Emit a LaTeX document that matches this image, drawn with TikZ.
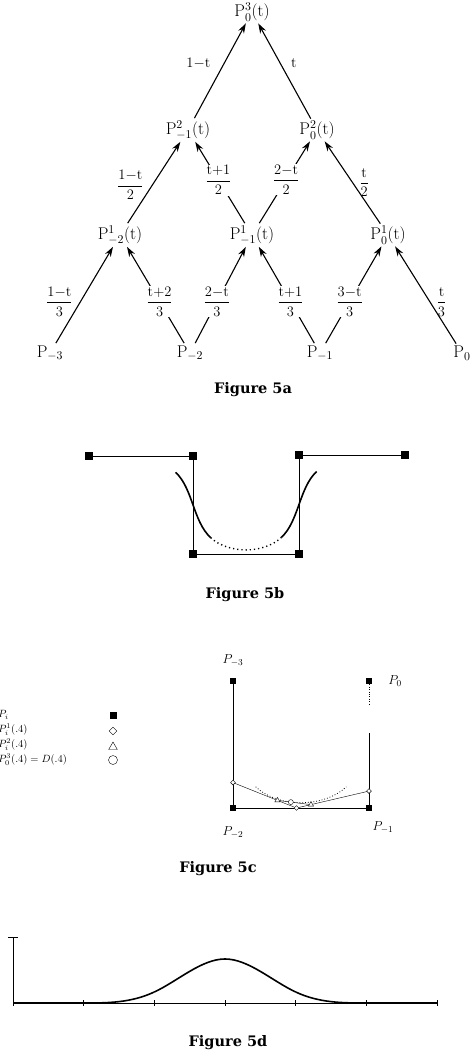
\RequirePackage{fix-cm}
\documentclass[tikz,border=0pt]{standalone}
\usepackage{amsmath, amssymb}
\usepackage{fontspec}
\newfontfamily\capfont{DejaVu Serif}
\usetikzlibrary{arrows.meta, calc, shapes.geometric}

\newcommand{\vP}{\mathrm{P}}
\newcommand{\vt}{\mathrm{t}}
% one piece of a uniform cubic B-spline, drawn as a Bezier
\newcommand{\bseg}[5][]{%
  \draw[#1] ($1/6*(#2)+2/3*(#3)+1/6*(#4)$)
    .. controls ($(#3)!1/3!(#4)$) and ($(#3)!2/3!(#4)$)
    .. ($1/6*(#3)+2/3*(#4)+1/6*(#5)$);}

\begin{document}
\begin{tikzpicture}
    [x=1pt, y=-1pt, >={Stealth[length=10pt,width=6.5pt]}, semithick,
     pnode/.style={font=\fontsize{17}{19}\selectfont, inner sep=2pt},
     lbl/.style={font=\fontsize{14.5}{16}\selectfont},
     ilbl/.style={font=\fontsize{13}{15}\selectfont},
     glbl/.style={font=\fontsize{10.5}{15}\selectfont, anchor=west, align=left, inner sep=1pt},
     wlbl/.style={fill=white, inner sep=1pt},
     figcap/.style={font=\capfont\bfseries\fontsize{14.5}{16}\selectfont},
     wt/.style={->, line width=1.1pt},
     sq/.style={rectangle, fill=black, inner sep=0pt, minimum size=#1},
     sq/.default=6pt,
     dmd/.style={diamond, draw, thin, fill=white, inner sep=0pt, minimum size=#1},
     dmd/.default=5pt,
     tri/.style={regular polygon, regular polygon sides=3, draw, thin, fill=white, inner sep=0pt, minimum size=#1},
     tri/.default=6pt,
     crc/.style={circle, draw, thin, fill=white, inner sep=0pt, minimum size=#1},
     crc/.default=5pt]
    \useasboundingbox (0,0) rectangle (474,1050);

    % Figure 5a
    \node[pnode] (p03) at (252,12) {$\vP^3_0(\vt)$};
    \node[pnode] (pm12) at (188,130) {$\vP^2_{-1}(\vt)$};
    \node[pnode] (p02) at (317,130) {$\vP^2_0(\vt)$};
    \node[pnode] (pm21) at (120,235) {$\vP^1_{-2}(\vt)$};
    \node[pnode] (pm11) at (252,235) {$\vP^1_{-1}(\vt)$};
    \node[pnode] (p01) at (388,235) {$\vP^1_0(\vt)$};
    \node[pnode] (pm3) at (50,353) {$\vP_{-3}$};
    \node[pnode] (pm2) at (190,353) {$\vP_{-2}$};
    \node[pnode] (pm1) at (320,353) {$\vP_{-1}$};
    \node[pnode] (p0) at (462,353) {$\vP_0$};

    \path[wt] (pm12) edge node[lbl, left=10pt, pos=.58] {$1{-}\vt$} (p03);
    \path[wt] (p02) edge node[lbl, right=7pt, pos=.58] {$\vt$} (p03);
    \path[wt] (pm21) edge node[lbl, left=5pt, pos=.47] {$\dfrac{1{-}\vt}{2}$} (pm12);
    \path[wt] (pm11) edge node[lbl, wlbl, pos=.53] {$\dfrac{\vt{+}1}{2}$} (pm12);
    \path[wt] (pm11) edge node[lbl, wlbl, pos=.53] {$\dfrac{2{-}\vt}{2}$} (p02);
    \path[wt] (p01) edge node[lbl, right=3pt, pos=.5] {$\dfrac{\vt}{2}$} (p02);
    \path[wt] (pm3) edge node[lbl, left=4pt, pos=.43] {$\dfrac{1{-}\vt}{3}$} (pm21);
    \path[wt] (pm2) edge node[lbl, wlbl, pos=.43] {$\dfrac{\vt{+}2}{3}$} (pm21);
    \path[wt] (pm2) edge node[lbl, wlbl, pos=.43] {$\dfrac{2{-}\vt}{3}$} (pm11);
    \path[wt] (pm1) edge node[lbl, wlbl, pos=.43] {$\dfrac{\vt{+}1}{3}$} (pm11);
    \path[wt] (pm1) edge node[lbl, wlbl, pos=.43] {$\dfrac{3{-}\vt}{3}$} (p01);
    \path[wt] (p0) edge node[lbl, right=3pt, pos=.43] {$\dfrac{\vt}{3}$} (p01);

    \node[figcap] (cap5a) at (253,390) {Figure 5a};

    % Figure 5b
    \node[sq=8pt] (b1) at (89,456) {};
    \node[sq=8pt] (b2) at (193,456) {};
    \node[sq=8pt] (b3) at (193,554) {};
    \node[sq=8pt] (b4) at (299,554) {};
    \node[sq=8pt] (b5) at (299,455) {};
    \node[sq=8pt] (b6) at (405,455) {};
    \draw[thin] (b1) -- (b2) -- (b3) -- (b4) -- (b5) -- (b6);
    \bseg[line width=1.6pt]{b1}{b2}{b3}{b4}
    \bseg[line width=1.4pt, dash pattern=on 1.2pt off 3pt]{b2}{b3}{b4}{b5}
    \bseg[line width=1.6pt]{b3}{b4}{b5}{b6}

    \node[figcap] (cap5b) at (245,595) {Figure 5b};

    % Figure 5c
    \node[sq] (c3) at (233,681) {};
    \node[sq] (c2) at (233,808) {};
    \node[sq] (c1) at (369,808) {};
    \node[sq] (c0) at (369,681) {};
    \coordinate (c0b) at (369,705);
    \coordinate (c1b) at (369,733);
    \draw (c3) -- (c2);
    \draw[thin] (c2) -- (c1) -- (c1b);
    \draw[thin, dotted] (c0) -- (c0b);
    \bseg[thick, dotted]{c3}{c2}{c1}{c0}

    \node[dmd] (d2) at ($(c3)!.8!(c2)$) {};
    \node[dmd] (d1) at ($(c2)!1.4/3!(c1)$) {};
    \node[dmd] (d0) at ($(c1)!.4/3!(c0)$) {};
    \draw[thin] (d2) -- (d1) -- (d0);
    \node[tri] (e1) at ($(d2)!.7!(d1)$) {};
    \node[tri] (e0) at ($(d1)!.2!(d0)$) {};
    \draw[thin] (e1) -- (e0);
    \node[crc] (f0) at ($(e1)!.4!(e0)$) {};

    \node[ilbl] (l3) at (233,660) {$P_{-3}$};
    \node[ilbl] (l0) at (395,681) {$P_0$};
    \node[ilbl] (l2) at (233,832) {$P_{-2}$};
    \node[ilbl] (l1) at (383,827) {$P_{-1}$};

    % legend
    \node[glbl] (leg) at (-3,738)
        {$P_i$\\ $P_i^1(.4)$\\ $P_i^2(.4)$\\ $P_0^3(.4) = D(.4)$};
    \node[sq=7pt] (m1) at (113,715) {};
    \node[dmd=8pt] (m2) at (113,731) {};
    \node[tri=10pt] (m3) at (113,747) {};
    \node[crc=9pt] (m4) at (113,760) {};

    \node[figcap] (cap5c) at (218,869) {Figure 5c};

    % Figure 5d
    \coordinate (o) at (13,1003);
    \coordinate (xend) at (437,1003);
    \coordinate (ytop) at (13,937);
    \draw[thin] (ytop) -- (o) -- (xend);
    \draw[thin] ($(ytop)+(-5,0)$) -- ($(ytop)+(5,0)$);
    \foreach \i in {0,...,6} {
        \coordinate (k\i) at ($(o)!\i/6!(xend)$);
        \draw[thin] ($(k\i)+(0,-3)$) -- ($(k\i)+(0,3)$);
    }
    \coordinate (h3) at (k3 |- ytop);
    \draw[line width=1.6pt] (k0) -- (k1) (k5) -- (k6);
    \bseg[line width=1.6pt]{k0}{k1}{k2}{h3}
    \bseg[line width=1.6pt]{k1}{k2}{h3}{k4}
    \bseg[line width=1.6pt]{k2}{h3}{k4}{k5}
    \bseg[line width=1.6pt]{h3}{k4}{k5}{k6}

    \node[figcap] (cap5d) at (228,1043) {Figure 5d};
\end{tikzpicture}
\end{document}
